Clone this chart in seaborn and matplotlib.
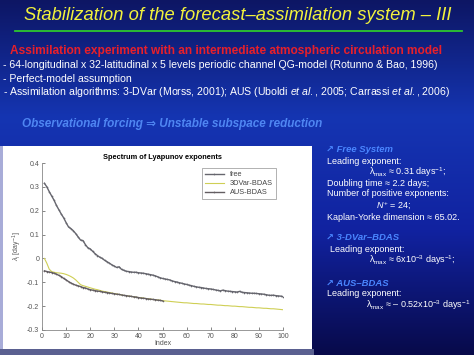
import numpy as np
import matplotlib
matplotlib.use("Agg")
import matplotlib.pyplot as plt
import seaborn as sns
from matplotlib.colors import LinearSegmentedColormap
from matplotlib.patches import Rectangle

plt.rcParams['font.family'] = ['Liberation Sans', 'DejaVu Sans']
plt.rcParams['mathtext.fontset'] = 'custom'
plt.rcParams['mathtext.rm'] = 'Liberation Sans'
plt.rcParams['mathtext.it'] = 'Liberation Sans:italic'
plt.rcParams['mathtext.bf'] = 'Liberation Sans:bold'

# Lyapunov spectra
idx_free = np.arange(1, 101)
free = [0.315, 0.300, 0.280, 0.262, 0.244, 0.222, 0.204, 0.186, 0.170, 0.150,
        0.132, 0.125, 0.116, 0.104, 0.090, 0.077, 0.075, 0.058, 0.045, 0.040,
        0.030, 0.020, 0.012, 0.005, 0.000, -0.008, -0.014, -0.020, -0.027, -0.032,
        -0.038, -0.035, -0.046, -0.050, -0.054, -0.055, -0.057, -0.058, -0.058, -0.060,
        -0.061, -0.062, -0.064, -0.066, -0.068, -0.070, -0.073, -0.077, -0.081, -0.084,
        -0.086, -0.088, -0.090, -0.094, -0.097, -0.099, -0.102, -0.104, -0.107, -0.109,
        -0.112, -0.114, -0.117, -0.119, -0.121, -0.122, -0.124, -0.126, -0.127, -0.128,
        -0.130, -0.132, -0.134, -0.136, -0.133, -0.135, -0.137, -0.138, -0.139, -0.140,
        -0.141, -0.138, -0.142, -0.143, -0.144, -0.145, -0.146, -0.146, -0.147, -0.148,
        -0.149, -0.150, -0.152, -0.154, -0.155, -0.154, -0.156, -0.157, -0.158, -0.160]

idx_3dvar = np.arange(1, 101)
var3d = [0.000, -0.020, -0.045, -0.055, -0.058, -0.060, -0.061, -0.062, -0.064, -0.067,
         -0.071, -0.076, -0.082, -0.090, -0.100, -0.110, -0.114, -0.117, -0.120, -0.123,
         -0.126, -0.129, -0.131, -0.134, -0.137, -0.139, -0.141, -0.143, -0.145, -0.147,
         -0.149, -0.151, -0.153, -0.155, -0.156, -0.158, -0.159, -0.161, -0.162, -0.164,
         -0.165, -0.166, -0.168, -0.169, -0.170, -0.172, -0.173, -0.174, -0.175, -0.177,
         -0.178, -0.179, -0.180, -0.181, -0.182, -0.183, -0.184, -0.185, -0.186, -0.186,
         -0.187, -0.188, -0.189, -0.189, -0.190, -0.191, -0.191, -0.192, -0.193, -0.193,
         -0.194, -0.195, -0.196, -0.196, -0.197, -0.198, -0.198, -0.199, -0.200, -0.200,
         -0.201, -0.202, -0.202, -0.203, -0.204, -0.205, -0.205, -0.206, -0.207, -0.207,
         -0.208, -0.209, -0.209, -0.210, -0.211, -0.211, -0.212, -0.213, -0.214, -0.215]

idx_aus = np.arange(1, 51)
aus = [-0.052, -0.055, -0.057, -0.059, -0.062, -0.066, -0.071, -0.076, -0.084, -0.090,
       -0.097, -0.103, -0.108, -0.112, -0.115, -0.118, -0.122, -0.124, -0.128, -0.131,
       -0.133, -0.135, -0.137, -0.138, -0.140, -0.142, -0.143, -0.145, -0.147, -0.148,
       -0.150, -0.151, -0.153, -0.155, -0.156, -0.158, -0.159, -0.161, -0.162, -0.164,
       -0.166, -0.167, -0.168, -0.170, -0.171, -0.172, -0.173, -0.175, -0.176, -0.178]

x_ticks = list(range(0, 101, 10))
y_ticks = [-0.3, -0.2, -0.1, 0, 0.1, 0.2, 0.3, 0.4]
y_ticklabels = ['-0.3', '-0.2', '-0.1', '0', '0.1', '0.2', '0.3', '0.4']

W, H = 474, 355
fig = plt.figure(figsize=(W / 100, H / 100), dpi=100)

# slide background (pixel coordinates)
bg = fig.add_axes([0, 0, 1, 1])
cmap = LinearSegmentedColormap.from_list(
    'slide', [(0, '#0d1664'), (0.33, '#1535b2'), (0.65, '#1122a0'), (1, '#080a4a')])
bg.imshow(np.linspace(0, 1, 256).reshape(-1, 1), cmap=cmap, aspect='auto',
          extent=[0, W, H, 0])
bg.set_xlim(0, W)
bg.set_ylim(H, 0)
bg.axis('off')

bg.text(238, 16, 'Stabilization of the forecast–assimilation system – III',
        color='#f2f23c', fontsize=13.2, style='italic', ha='center', va='center')
bg.plot([15, 462], [31, 31], color='#2ec82e', lw=1.3)
bg.text(10, 51, 'Assimilation experiment with an intermediate atmospheric circulation model',
        color='#e8202a', fontsize=8.6, weight='bold', va='center')
body = ['- 64-longitudinal x 32-latitudinal x 5 levels periodic channel QG-model (Rotunno & Bao, 1996)',
        '- Perfect-model assumption',
        r'- Assimilation algorithms: 3-DVar (Morss, 2001); AUS (Uboldi $\mathit{et\ al.}$, 2005; Carrassi $\mathit{et\ al.}$, 2006)']
for i, line in enumerate(body):
    bg.text(3, 65 + 13.5 * i, line, color='white', fontsize=7.6, va='center')
bg.text(22, 124, 'Observational forcing ⇒ Unstable subspace reduction',
        color='#4f86f2', fontsize=8.5, style='italic', weight='bold', va='center')

# picture frame
bg.add_patch(Rectangle((0, 146), 3, 209, color='#a8acd8', lw=0))
bg.add_patch(Rectangle((0, 349), 314, 6, color='#5a6090', lw=0))
bg.add_patch(Rectangle((3, 146), 309, 203, color='white', lw=0))

# right-hand notes
hdr = dict(color='#4a86ff', fontsize=6.8, style='italic', weight='bold', va='center')
txt = dict(color='white', fontsize=6.5, va='center')
bg.text(326, 150, '↗ Free System', **hdr)
bg.text(327, 161, 'Leading exponent:', **txt)
bg.text(369, 172, r'λ$_{\rm max}$ ≈ 0.31 days$^{-1}$;', **txt)
bg.text(327, 183, 'Doubling time ≈ 2.2 days;', **txt)
bg.text(327, 194, 'Number of positive exponents:', **txt)
bg.text(376, 206, r'$N^{+}$ = 24;', **txt)
bg.text(327, 217, 'Kaplan-Yorke dimension ≈ 65.02.', **txt)
bg.text(326, 238, '↗ 3-DVar–BDAS', **hdr)
bg.text(330, 249, 'Leading exponent:', **txt)
bg.text(369, 260, r'λ$_{\rm max}$ ≈ 6x10$^{-3}$ days$^{-1}$;', **txt)
bg.text(326, 283, '↗ AUS–BDAS', **hdr)
bg.text(327, 294, 'Leading exponent:', **txt)
bg.text(366, 305, r'λ$_{\rm max}$ ≈ – 0.52x10$^{-3}$ days$^{-1}$', **txt)

# the chart
ax = fig.add_axes([42 / W, 1 - 330 / H, 241 / W, 167 / H])
ax.set_facecolor('white')
sns.lineplot(x=idx_free, y=free, ax=ax, color='#66666e', lw=1.0, marker='.',
             markersize=2.4, markeredgewidth=0, label='free')
sns.lineplot(x=idx_3dvar, y=var3d, ax=ax, color='#cfcf55', lw=0.8, label='3DVar-BDAS')
sns.lineplot(x=idx_aus, y=aus, ax=ax, color='#645e62', lw=1.0, marker='.',
             markersize=2.4, markeredgewidth=0, label='AUS-BDAS')

ax.set_xlim(0, 100)
ax.set_ylim(-0.3, 0.4)
ax.set_xticks(x_ticks)
ax.set_yticks(y_ticks)
ax.set_yticklabels(y_ticklabels)
ax.tick_params(direction='in', length=2, width=0.5, labelsize=5, colors='#555555',
               pad=2)
for s in ['top', 'right']:
    ax.spines[s].set_visible(False)
for s in ['left', 'bottom']:
    ax.spines[s].set_color('#888888')
    ax.spines[s].set_linewidth(0.6)
ax.set_title('Spectrum of Lyapunov exponents', fontsize=5.3, weight='bold', pad=3)
ax.set_xlabel('Index', fontsize=5, color='#555555', labelpad=0)
ax.set_ylabel(r'$\lambda_i$ [day$^{-1}$]', fontsize=5, color='#555555', labelpad=2)
leg = ax.legend(loc='upper right', fontsize=5.3, frameon=True, fancybox=False,
                borderpad=0.4, handlelength=2.6, labelspacing=0.25,
                bbox_to_anchor=(0.985, 0.99))
leg.get_frame().set_edgecolor('#777777')
leg.get_frame().set_linewidth(0.5)
for t in leg.get_texts():
    t.set_color('#444444')

fig.savefig('out.png', dpi=100)
